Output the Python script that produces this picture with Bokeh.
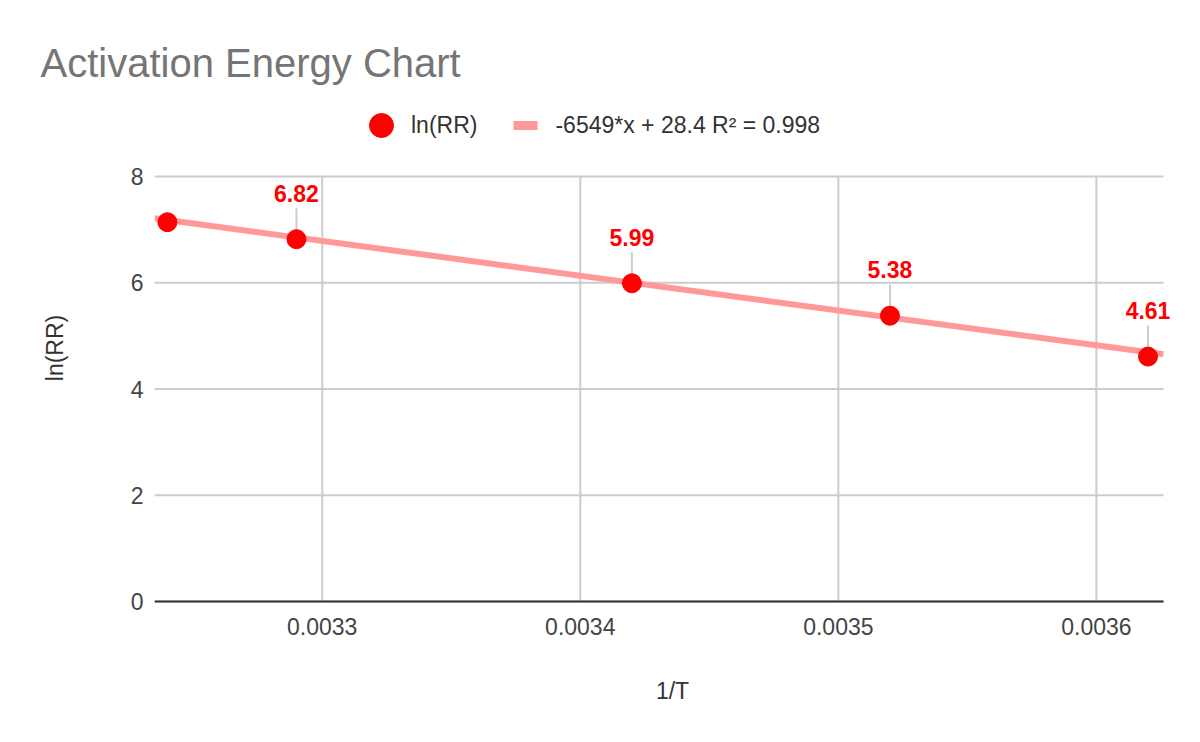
from bokeh.plotting import figure
from bokeh.models import Range1d, FixedTicker, Legend, LegendItem
from bokeh.embed import file_html
from bokeh.resources import INLINE
from bokeh.core.properties import value

# ---- data ----
inv_T = [0.003240, 0.003290, 0.003420, 0.003520, 0.003620]
ln_rr = [7.14, 6.82, 5.99, 5.38, 4.61]
point_labels = ["", "6.82", "5.99", "5.38", "4.61"]
x_ticks = [0.0033, 0.0034, 0.0035, 0.0036]
x_tick_labels = ["0.0033", "0.0034", "0.0035", "0.0036"]
y_ticks = [0, 2, 4, 6, 8]
y_tick_labels = ["0", "2", "4", "6", "8"]
trend_slope = -6549
trend_intercept = 28.4
trend_r2 = 0.998
series_name = "ln(RR)"
trend_name = "-6549*x + 28.4 R\u00b2 = 0.998"
title_text = "Activation Energy Chart"
x_title = "1/T"
y_title = "ln(RR)"

# ---- layout ----
W, H = 1200, 742
DATA_TOP, DATA_BOTTOM = 176, 601      # page y of value 8 and value 0
FRAME_TOP = 90
PAD = 4
BL, BR, BT, BB = 154, 10, FRAME_TOP, H - DATA_BOTTOM - PAD
X0, X1 = 0.003235, 0.003626           # data window drawn by grid (page x 154 .. 1163)
Y0, Y1 = 0, 8
DATA_W_PX = 1009
ppx = DATA_W_PX / (X1 - X0)
ppu = (DATA_BOTTOM - DATA_TOP) / (Y1 - Y0)
X1_EXT = X0 + (W - BL - BR) / ppx
Y1_EXT = Y1 + (DATA_TOP - FRAME_TOP) / ppu
FONT = "Liberation Sans"
RED = "#ff0000"
TREND = "#ff9999"
GRID = "#cccccc"

p = figure(width=W, height=H,
           x_range=Range1d(X0, X1_EXT),
           y_range=Range1d(Y0 - PAD / ppu, Y1_EXT),
           output_backend="svg", toolbar_location=None,
           min_border_left=BL, min_border_right=BR, min_border_top=BT, min_border_bottom=BB)
p.outline_line_color = None
p.background_fill_color = "white"
p.border_fill_color = "white"

# title
p.title.text = title_text
p.title.text_font = FONT
p.title.text_font_size = "40px"
p.title.text_font_style = "normal"
p.title.text_color = "#757575"
p.title.align = "left"
p.title.offset = -114
p.title.standoff = 12

# axes
p.xaxis.ticker = FixedTicker(ticks=x_ticks)
p.yaxis.ticker = FixedTicker(ticks=y_ticks)
p.xaxis.major_label_overrides = {t: l for t, l in zip(x_ticks, x_tick_labels)}
p.yaxis.major_label_overrides = {t: l for t, l in zip(y_ticks, y_tick_labels)}
for ax in (p.xaxis, p.yaxis):
    ax.major_tick_line_color = None
    ax.minor_tick_line_color = None
    ax.axis_line_color = None
    ax.major_label_text_font = FONT
    ax.major_label_text_font_size = "23px"
    ax.major_label_text_color = "#444444"
    ax.axis_label_text_font = FONT
    ax.axis_label_text_font_size = "23px"
    ax.axis_label_text_font_style = "normal"
    ax.axis_label_text_color = "#333333"
p.xaxis.axis_label = x_title
p.yaxis.axis_label = y_title
p.xaxis.major_label_standoff = 6
p.yaxis.major_label_standoff = 5
p.xaxis.axis_label_standoff = 40
p.yaxis.axis_label_standoff = 60

p.grid.grid_line_color = None

# grid lines limited to the data window
p.segment(x0=x_ticks, y0=[Y0] * len(x_ticks), x1=x_ticks, y1=[Y1] * len(x_ticks),
          line_color=GRID, line_width=2)
p.segment(x0=[X0] * len(y_ticks), y0=y_ticks, x1=[X1] * len(y_ticks), y1=y_ticks,
          line_color=GRID, line_width=2)
# baseline (x axis line)
p.segment(x0=[X0], y0=[Y0], x1=[X1], y1=[Y0], line_color="#333333", line_width=2)

# trendline across the data window
tx = [X0, X1]
ty = [trend_slope * v + trend_intercept for v in tx]
p.line(tx, ty, line_color=TREND, line_width=6)

# leader lines and data labels
lx = [x for x, l in zip(inv_T, point_labels) if l]
ly = [y for y, l in zip(ln_rr, point_labels) if l]
lt = [l for l in point_labels if l]
p.segment(x0=lx, y0=[y + 8 / ppu for y in ly], x1=lx, y1=[y + 31 / ppu for y in ly],
          line_color=GRID, line_width=2)

sc = p.scatter(inv_T, ln_rr, size=19, fill_color=RED, line_color=RED)

p.text(x=lx, y=ly, text=lt, y_offset=-46, text_align="center", text_baseline="alphabetic",
       text_font=value(FONT), text_font_size="23px", text_font_style="bold", text_color=RED)

# legend swatch renderer for the trendline (not drawn in the plot: NaN position)
dummy_dash = p.scatter(x=[float("nan")], y=[float("nan")], marker="dash",
                       line_color=TREND, line_width=9, size=24)
legend = Legend(items=[LegendItem(label=series_name, renderers=[sc]),
                       LegendItem(label=trend_name, renderers=[dummy_dash])],
                location=(197, 450), orientation="horizontal",
                glyph_width=60, glyph_height=60, label_standoff=0, spacing=18,
                padding=0, margin=0, border_line_color=None, background_fill_alpha=0,
                label_text_font=FONT, label_text_font_size="23px", label_text_color="#333333")
p.add_layout(legend)

open("out.html", "w").write(file_html(p, INLINE))
